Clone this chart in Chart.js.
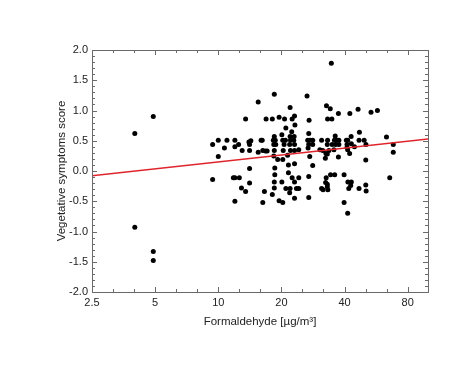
<!DOCTYPE html>
<html lang="en">
<head>
<meta charset="UTF-8">
<title>Vegetative symptoms vs formaldehyde</title>
<script src="https://cdn.jsdelivr.net/npm/chart.js"></script>
<style>
  html, body { margin: 0; padding: 0; background: #fff; }
</style>
</head>
<body>
<canvas id="scatter" width="474" height="366"></canvas>
<script>
// axis ticks
const xTicks = [2.5, 5, 10, 20, 40, 80];
const yTicks = [-2, -1.5, -1, -0.5, 0, 0.5, 1, 1.5, 2];

// formaldehyde concentration (µg/m³) of each subject
const formaldehyde = [
  4.0, 4.9, 4.0, 4.9, 4.9, 9.4, 9.4, 10.0, 10.0, 10.7,
  11.0, 12.0, 12.0, 12.5, 11.8, 12.0, 12.6, 12.0, 13.0, 12.9,
  13.5, 13.5, 14.0, 14.3, 14.1, 14.1, 14.1, 14.1, 15.5, 15.5,
  16.0, 16.2, 16.3, 16.8, 17.1, 16.9, 16.6, 16.3, 18.1, 18.5,
  18.3, 18.7, 18.4, 18.8, 18.5, 18.5, 18.4, 18.6, 18.6, 18.5,
  18.5, 18.1, 19.5, 19.2, 19.5, 20.1, 20.1, 20.3, 20.3, 20.6,
  20.4, 20.3, 20.7, 20.9, 21.0, 21.0, 21.4, 21.6, 21.6, 22.0,
  22.1, 21.9, 22.1, 22.0, 22.4, 22.0, 21.9, 22.5, 22.5, 22.9,
  23.1, 23.1, 23.1, 23.0, 23.2, 23.1, 23.1, 23.1, 23.6, 24.2,
  24.2, 24.2, 26.5, 26.7, 27.4, 28.2, 27.0, 28.2, 26.8, 27.1,
  27.0, 27.3, 28.2, 27.0, 27.0, 30.5, 31.5, 31.1, 32.6, 32.4,
  33.1, 33.7, 35.6, 32.8, 34.2, 34.6, 33.2, 34.8, 33.2, 35.8,
  36.8, 37.6, 33.1, 34.9, 36.3, 37.6, 36.1, 37.4, 37.4, 32.7,
  34.3, 35.9, 32.5, 33.1, 33.1, 33.3, 31.1, 31.6, 39.8, 39.8,
  41.4, 40.8, 41.4, 41.1, 43.1, 41.1, 41.4, 42.3, 44.6, 42.4,
  43.0, 41.5, 43.1, 42.8, 41.9, 46.4, 47.1, 46.9, 46.9, 49.6,
  50.6, 50.5, 50.5, 50.7, 53.5, 57.4, 63.4, 65.7, 68.3, 68.3
];

// vegetative symptoms score of each subject
const symptoms = [
  0.62, 0.90, -0.93, -1.33, -1.48, -0.14, 0.44, 0.51, 0.24, 0.38,
  0.51, 0.51, 0.40, 0.44, -0.11, -0.11, -0.11, -0.50, 0.34, -0.28,
  -0.34, 0.86, 0.48, 0.50, 0.44, 0.34, 0.04, -0.20, 1.14, 0.31,
  0.51, 0.51, 0.34, 0.33, 0.33, 0.86, -0.34, -0.52, 0.86, 1.27,
  0.51, 0.51, 0.44, 0.44, 0.57, 0.34, 0.25, 0.05, -0.06, -0.18,
  -0.28, -0.39, 0.89, 0.19, -0.49, 0.60, -0.18, 0.19, 0.51, 0.44,
  0.34, -0.52, 0.86, 0.51, 0.71, -0.29, 0.26, 0.10, -0.03, 1.05,
  0.51, 0.44, 0.34, 0.57, 0.65, -0.29, -0.36, 0.86, -0.11, 0.51,
  0.91, 0.44, 0.34, 0.57, 0.76, 0.12, -0.18, -0.45, -0.29, -0.11,
  -0.29, 0.35, 1.24, 0.51, 0.51, 0.51, 0.44, 0.44, 0.38, 0.84,
  0.62, 0.24, 0.09, -0.09, -0.44, 0.35, 0.34, 0.51, 0.29, 0.21,
  0.28, 0.34, 0.35, 1.08, 1.03, 1.78, 0.86, 0.86, 0.51, 0.51,
  0.51, 0.51, 0.44, 0.44, 0.44, 0.44, 0.58, 0.95, 0.23, -0.11,
  -0.06, -0.06, -0.19, -0.22, -0.26, -0.31, -0.29, -0.31, -0.06, -0.52,
  -0.70, 0.51, 0.51, 0.44, 0.45, 0.39, 0.35, 0.29, 0.40, 0.95,
  0.57, -0.18, -0.18, -0.24, -0.29, 1.02, 0.64, 0.51, -0.29, 0.51,
  0.44, 0.18, -0.23, -0.33, 0.97, 1.00, 0.56, -0.11, 0.44, 0.31
];

// regression line end points
const fitX = [2.5, 100];
const fitY = [-0.08, 0.53];

const labelFont = { family: "'Liberation Sans', Arial, sans-serif", size: 11 };
const titleFont = { family: "'Liberation Sans', Arial, sans-serif", size: 11.5 };

// box around the plot with small inward ticks on every side
const frameTicks = {
  id: 'frameTicks',
  afterDatasetsDraw(chart) {
    const { ctx, chartArea: a, scales: { x, y } } = chart;
    ctx.save();
    ctx.strokeStyle = '#6a6a6a';
    ctx.lineWidth = 1;
    ctx.strokeRect(a.left + 0.5, a.top + 0.5, a.right - a.left, a.bottom - a.top);
    ctx.beginPath();
    for (let k = -20; k <= 20; k++) {
      const py = Math.round(y.getPixelForValue(k / 10)) + 0.5;
      const len = k % 5 === 0 ? 5 : 3;
      ctx.moveTo(a.left, py); ctx.lineTo(a.left + len, py);
      ctx.moveTo(a.right, py); ctx.lineTo(a.right - len, py);
    }
    xTicks.forEach(v => {
      for (let j = 0; j < 3; j++) {
        const t = v * Math.pow(2, j / 3);
        if (t > x.max) break;
        const px = Math.round(x.getPixelForValue(t)) + 0.5;
        const len = j === 0 ? 5 : 3;
        ctx.moveTo(px, a.bottom); ctx.lineTo(px, a.bottom - len);
        ctx.moveTo(px, a.top); ctx.lineTo(px, a.top + len);
      }
    });
    ctx.stroke();
    ctx.restore();
  }
};

new Chart(document.getElementById('scatter'), {
  type: 'scatter',
  data: {
    datasets: [
      {
        label: 'Regression',
        data: fitX.map((v, i) => ({ x: v, y: fitY[i] })),
        showLine: true,
        borderColor: '#e0242b',
        borderWidth: 1.5,
        pointRadius: 0,
        order: 0
      },
      {
        label: 'Subjects',
        data: formaldehyde.map((v, i) => ({ x: v, y: symptoms[i] })),
        backgroundColor: '#000',
        borderColor: '#000',
        pointRadius: 2.5,
        borderWidth: 0,
        order: 1
      }
    ]
  },
  options: {
    responsive: false,
    animation: false,
    layout: { padding: { left: 55, top: 50, right: 46, bottom: 34 } },
    plugins: { legend: { display: false }, tooltip: { enabled: false } },
    scales: {
      x: {
        type: 'logarithmic',
        min: 2.5,
        max: 100,
        afterBuildTicks: s => { s.ticks = xTicks.map(v => ({ value: v })); },
        afterFit: s => { s.height = 40; },
        grid: { display: false, drawTicks: false },
        border: { display: false },
        ticks: { padding: 4, color: '#222', font: labelFont, autoSkip: false, maxRotation: 0, callback: v => String(v) },
        title: { display: true, text: 'Formaldehyde [µg/m³]', color: '#222', font: titleFont, padding: { top: 0, bottom: 3 } }
      },
      y: {
        min: -2,
        max: 2,
        afterBuildTicks: s => { s.ticks = yTicks.map(v => ({ value: v })); },
        afterFit: s => { s.width = 37; },
        grid: { display: false, drawTicks: false },
        border: { display: false },
        ticks: { padding: 4, color: '#222', font: labelFont, callback: v => v.toFixed(1) },
        title: { display: true, text: 'Vegetative symptoms score', color: '#222', font: titleFont, padding: { top: 0, bottom: 0 } }
      }
    }
  },
  plugins: [frameTicks]
});
</script>
</body>
</html>
